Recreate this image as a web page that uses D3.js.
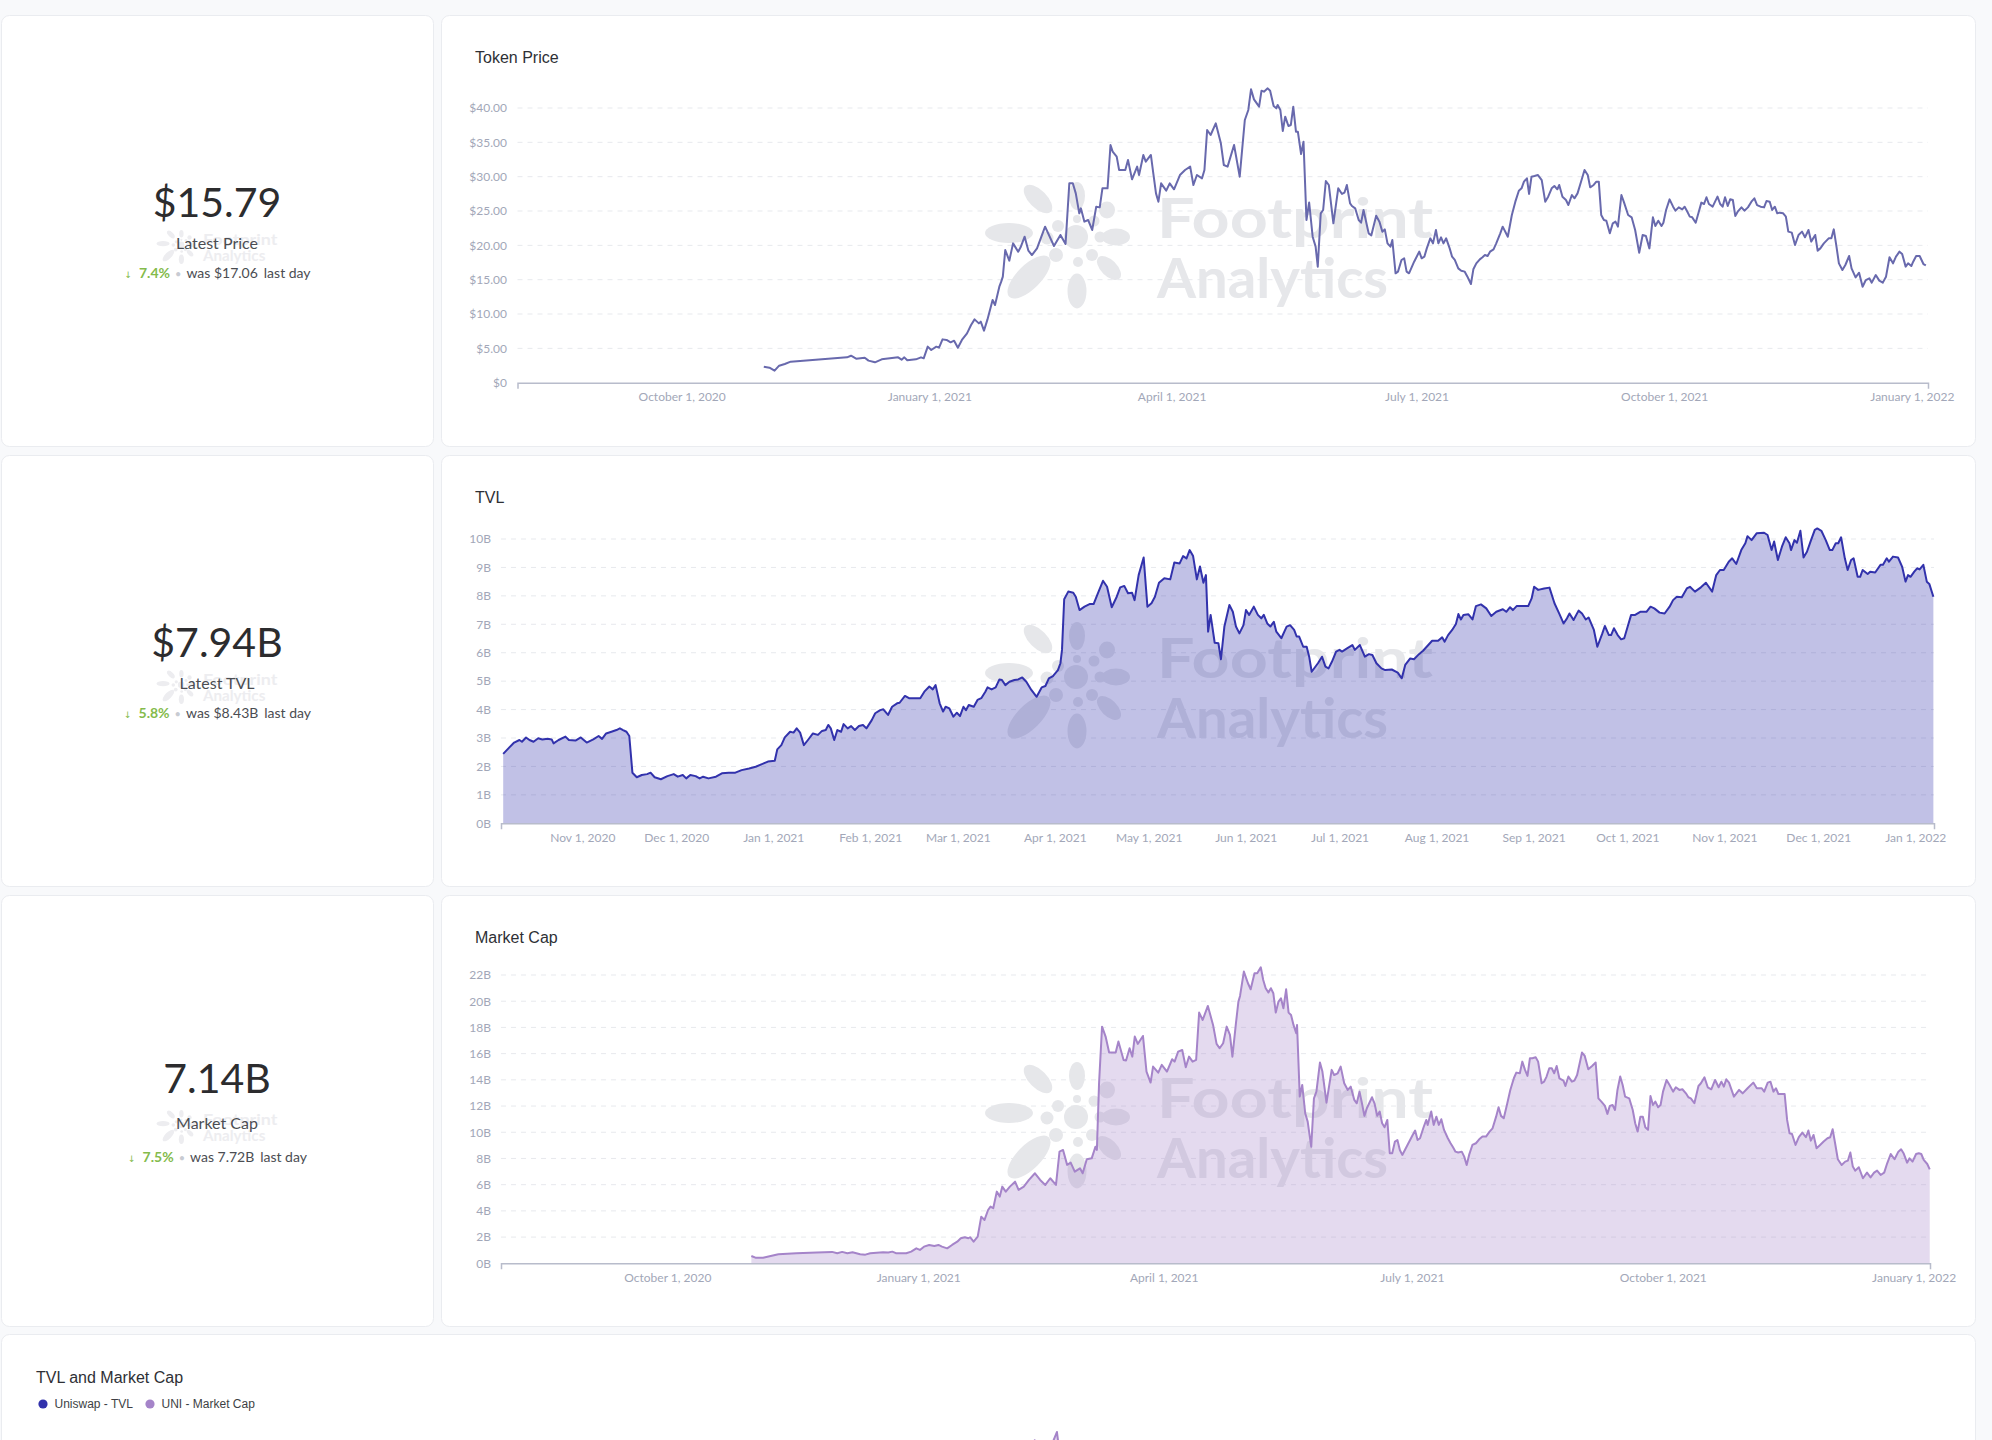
<!DOCTYPE html>
<html>
<head>
<meta charset="utf-8">
<script src="https://cdn.jsdelivr.net/npm/d3@7"></script>
<style>
html,body{margin:0;padding:0;background:#f8f9fb;overflow:hidden;}
svg{display:block;}
</style>
</head>
<body>
<svg id="page" width="1992" height="1440"></svg>
<script>
// ---------------- DATA ----------------
// x values are days counted from 2020-10-01, y values in USD / billions
const dayZero = "2020-10-01";

const tokenPrice = [[30.5,2.33],[32.6,2.19],[34.5,1.75],[36.2,2.48],[38.3,2.72],[40.5,3.06],[61.4,3.69],[62.9,3.93],[64.8,3.50],[68.0,3.64],[69.4,3.21],[71.8,2.97],[74.3,3.40],[80.4,3.69],[81.7,3.35],[82.7,3.69],[83.8,3.26],[87.0,3.40],[88.9,3.69],[89.9,3.55],[91.4,5.25],[92.7,4.76],[94.6,5.25],[95.6,5.10],[96.9,6.31],[98.4,6.22],[99.9,5.88],[101.2,6.12],[102.6,5.10],[104.1,6.22],[106.0,7.19],[107.5,8.40],[108.8,9.22],[110.4,8.64],[111.1,8.89],[112.3,7.58],[113.6,9.22],[115.5,12.04],[116.4,11.31],[118.0,13.98],[118.7,14.71],[119.3,15.44],[120.2,19.32],[121.7,17.77],[123.1,20.29],[125.0,19.08],[125.9,19.71],[127.4,21.26],[128.8,19.23],[130.1,18.59],[132.0,19.56],[135.0,22.72],[138.3,19.90],[140.7,21.51],[142.6,20.20],[144.0,29.03],[145.3,29.03],[146.4,27.57],[147.7,24.66],[148.3,25.39],[149.6,23.45],[151.0,23.69],[152.5,22.24],[154.0,25.63],[155.3,25.53],[156.3,28.30],[158.2,28.30],[159.3,34.61],[160.1,33.64],[161.6,32.91],[162.5,30.97],[164.8,30.97],[165.8,32.43],[167.3,29.61],[169.2,31.46],[169.9,30.24],[171.5,33.16],[172.4,32.18],[174.3,33.16],[175.2,30.49],[176.2,27.57],[177.1,26.36],[178.1,29.03],[180.0,27.96],[181.3,29.03],[182.9,28.16],[185.1,30.24],[187.0,30.97],[188.9,31.46],[190.1,28.79],[191.4,30.24],[193.3,29.76],[194.2,30.97],[195.2,36.80],[196.5,36.07],[198.4,37.77],[200.3,34.85],[201.4,31.70],[202.8,31.46],[205.2,34.61],[207.3,30.00],[209.2,38.25],[210.5,39.71],[211.5,42.72],[212.6,41.26],[214.5,40.19],[215.4,42.52],[216.3,42.38],[217.7,42.86],[218.6,42.52],[219.9,40.29],[220.9,39.95],[221.4,40.44],[222.4,39.71],[223.3,36.65],[224.2,38.74],[225.4,37.38],[226.3,37.53],[227.2,40.19],[228.2,36.55],[228.9,36.55],[230.1,33.30],[231.0,35.10],[232.1,23.69],[233.1,26.24],[234.4,21.26],[235.5,19.81],[236.3,16.90],[237.4,24.66],[238.3,25.15],[239.3,29.37],[240.4,28.79],[242.1,23.21],[243.9,28.30],[245.3,27.48],[246.2,27.67],[247.1,28.79],[248.3,26.12],[249.0,25.73],[250.2,25.39],[251.5,23.69],[252.4,23.30],[253.3,25.15],[255.2,21.75],[256.2,21.46],[258.0,24.32],[259.2,23.45],[260.3,21.99],[261.2,22.33],[262.2,20.29],[263.3,19.81],[264.0,20.78],[265.2,15.93],[266.1,16.17],[267.4,17.87],[268.4,18.11],[269.3,16.17],[270.2,15.93],[272.1,17.62],[274.0,19.08],[274.9,18.11],[275.9,18.35],[276.8,19.56],[278.1,21.02],[279.1,20.29],[280.2,22.24],[281.1,20.29],[282.1,21.17],[283.0,20.29],[284.0,21.02],[285.3,19.56],[286.2,18.35],[287.2,17.87],[288.5,16.65],[289.6,16.31],[290.9,16.17],[291.9,15.44],[293.2,14.37],[294.1,16.51],[295.2,17.38],[296.5,17.96],[297.5,18.26],[298.4,18.59],[299.4,18.45],[300.3,19.08],[301.6,19.42],[302.6,20.29],[304.1,21.75],[305.0,22.72],[306.9,21.26],[308.4,24.42],[309.7,26.36],[311.0,27.96],[312.0,28.30],[312.9,29.27],[314.0,29.76],[314.8,27.48],[315.7,30.00],[316.8,30.10],[318.1,30.24],[319.5,29.51],[320.8,26.36],[321.9,27.09],[323.2,28.30],[324.2,28.64],[325.3,28.16],[326.0,28.79],[327.2,27.09],[328.5,26.60],[329.4,25.87],[330.7,27.33],[331.7,26.85],[332.8,27.57],[334.1,29.27],[335.4,30.97],[336.6,30.24],[337.5,28.45],[338.8,28.79],[339.8,29.27],[340.7,29.27],[341.6,24.42],[342.6,23.69],[343.5,23.59],[344.8,21.75],[345.9,23.21],[346.9,23.45],[347.8,22.72],[349.1,27.33],[350.1,26.22],[351.6,24.42],[352.9,24.08],[354.2,22.24],[355.7,18.93],[357.0,21.51],[358.2,21.36],[359.5,19.56],[360.8,24.08],[361.7,22.82],[362.8,23.59],[364.0,22.82],[364.7,23.30],[365.7,25.15],[367.0,26.70],[368.3,25.63],[369.2,25.05],[370.4,25.53],[371.7,25.24],[372.6,25.63],[373.6,24.90],[374.5,24.18],[375.4,24.08],[376.7,23.30],[377.7,24.66],[378.8,26.22],[379.8,26.02],[380.7,27.00],[381.6,26.02],[383.0,25.63],[383.9,26.36],[384.8,27.09],[385.8,26.02],[386.7,25.63],[387.6,27.00],[388.6,25.73],[389.5,26.70],[390.5,26.60],[391.4,24.28],[392.3,24.90],[393.7,25.53],[394.8,25.05],[396.1,25.53],[397.4,26.36],[398.5,26.85],[399.5,25.87],[400.8,25.63],[402.1,25.53],[403.0,26.46],[404.2,26.36],[405.1,25.15],[406.1,25.63],[407.0,24.66],[407.9,24.76],[409.2,24.66],[410.2,24.18],[411.1,22.00],[412.4,21.85],[413.6,20.05],[414.9,21.51],[416.2,22.00],[417.3,21.17],[418.6,22.24],[419.6,20.54],[421.1,21.51],[422.0,19.23],[423.0,19.56],[424.3,20.29],[426.1,21.02],[427.1,21.02],[428.0,22.33],[429.0,19.81],[429.9,17.38],[431.2,16.41],[432.3,17.14],[433.7,18.45],[434.6,16.65],[436.1,15.34],[437.4,16.02],[438.7,13.98],[439.9,14.95],[441.2,15.20],[442.1,14.57],[443.6,15.68],[444.9,14.86],[446.2,14.57],[447.4,15.44],[448.7,18.26],[450.0,17.38],[451.1,18.35],[452.4,19.08],[453.4,18.74],[454.7,16.90],[455.6,17.38],[456.8,16.99],[457.5,17.62],[458.6,18.45],[459.9,18.45],[461.3,17.28],[462.2,17.09]];

const tvl = [[5.7,2.44],[7.6,2.66],[9.2,2.84],[10.9,2.93],[11.7,2.87],[13.0,3.02],[14.1,2.93],[15.4,2.87],[16.9,2.99],[18.2,2.95],[19.9,2.97],[21.2,2.95],[21.8,2.81],[23.4,2.93],[25.6,3.05],[26.7,2.93],[28.8,2.91],[30.5,3.02],[32.4,2.84],[34.5,2.95],[36.2,3.07],[37.3,2.97],[38.6,3.16],[40.3,3.22],[41.9,3.28],[43.0,3.34],[44.0,3.28],[45.1,3.22],[46.0,3.07],[47.0,1.78],[48.4,1.62],[50.0,1.70],[51.7,1.73],[52.8,1.78],[54.1,1.62],[56.1,1.55],[58.2,1.66],[60.2,1.73],[61.5,1.64],[63.1,1.70],[64.2,1.58],[65.5,1.70],[67.2,1.66],[68.5,1.58],[69.6,1.64],[71.3,1.58],[73.7,1.64],[75.6,1.76],[77.8,1.78],[79.9,1.78],[81.9,1.87],[84.3,1.93],[86.4,1.99],[88.4,2.08],[90.3,2.17],[92.5,2.20],[93.3,2.60],[94.6,2.75],[95.7,3.02],[97.4,3.22],[98.5,3.19],[99.5,3.34],[100.6,3.19],[101.8,2.75],[103.1,2.93],[104.7,3.16],[106.3,3.11],[107.6,3.25],[108.8,3.28],[109.6,3.46],[110.4,3.34],[111.5,2.93],[112.5,3.28],[113.7,3.22],[114.5,3.49],[115.8,3.34],[116.9,3.42],[118.1,3.28],[119.4,3.42],[120.7,3.46],[121.8,3.34],[123.5,3.63],[124.6,3.87],[126.2,3.98],[127.2,4.01],[128.7,3.81],[130.0,4.10],[131.6,4.22],[132.4,4.24],[134.1,4.48],[135.4,4.40],[137.3,4.40],[139.0,4.40],[140.3,4.63],[141.9,4.81],[143.0,4.71],[143.9,4.86],[145.2,4.22],[146.3,3.93],[147.1,4.10],[148.3,4.04],[149.6,3.75],[150.7,3.89],[151.7,3.77],[152.8,4.10],[153.6,3.98],[154.5,4.16],[156.1,4.10],[157.3,4.34],[158.5,4.40],[159.8,4.63],[160.5,4.78],[161.8,4.71],[163.1,4.78],[164.3,5.06],[165.1,5.04],[166.2,4.86],[167.5,4.98],[169.1,5.04],[170.3,5.06],[171.6,5.13],[172.9,4.98],[174.5,4.69],[176.2,4.45],[177.8,4.78],[179.0,4.83],[180.1,5.10],[181.4,5.18],[183.0,5.39],[183.8,5.63],[184.3,6.10],[185.0,7.88],[186.3,8.15],[187.9,8.11],[188.7,7.97],[189.9,7.50],[191.5,7.62],[193.1,7.71],[194.4,7.71],[195.7,8.07],[197.4,8.53],[198.7,8.32],[200.2,7.60],[201.8,7.97],[202.9,8.30],[204.2,8.35],[205.4,8.09],[206.7,8.11],[207.5,7.85],[208.8,8.73],[210.4,9.35],[211.6,7.62],[212.9,7.74],[214.0,7.97],[215.3,8.46],[217.0,8.62],[218.9,8.58],[220.2,9.17],[221.9,9.14],[223.0,9.40],[224.1,9.32],[225.1,9.61],[226.2,9.40],[227.4,8.58],[228.4,9.03],[229.5,8.46],[230.3,8.73],[231.0,6.74],[231.8,7.33],[233.1,6.35],[234.3,6.33],[235.1,5.77],[236.2,6.92],[237.8,7.68],[238.9,7.44],[239.9,6.92],[241.0,6.68],[242.3,6.97],[243.1,7.50],[244.1,7.33],[245.6,7.62],[246.9,7.33],[248.0,7.21],[248.8,7.33],[249.9,7.03],[250.9,6.92],[252.0,7.09],[252.8,6.74],[254.4,6.51],[256.1,6.92],[257.2,6.97],[258.5,6.80],[259.3,6.57],[260.1,6.57],[261.4,6.21],[262.5,6.21],[263.3,5.86],[264.1,5.33],[266.1,5.63],[267.4,5.86],[268.5,5.51],[269.5,5.45],[270.6,5.69],[271.9,6.04],[273.0,6.10],[273.8,6.04],[275.4,6.15],[277.1,6.27],[277.9,6.10],[279.5,6.27],[281.1,5.86],[282.4,5.95],[283.5,5.92],[284.8,5.63],[286.4,5.45],[287.6,5.39],[289.7,5.41],[291.6,5.30],[292.9,5.10],[294.0,5.57],[295.6,5.80],[296.8,5.77],[298.4,5.95],[299.7,6.07],[302.6,6.42],[304.5,6.42],[305.8,6.54],[306.6,6.39],[307.7,6.62],[309.0,6.80],[310.2,7.01],[311.0,7.36],[311.8,7.17],[312.6,7.33],[314.2,7.35],[315.5,7.17],[316.6,7.64],[318.2,7.70],[319.9,7.56],[321.5,7.29],[323.1,7.44],[325.2,7.53],[326.3,7.44],[327.5,7.60],[328.4,7.50],[329.6,7.64],[332.0,7.64],[333.3,7.64],[334.4,7.91],[335.2,8.32],[336.5,8.21],[338.4,8.26],[340.1,8.29],[341.7,7.74],[343.3,7.36],[344.6,7.03],[345.7,7.21],[346.5,7.38],[347.8,7.15],[349.4,7.48],[350.5,7.38],[351.7,7.17],[352.6,7.24],[354.3,6.80],[355.4,6.21],[357.0,6.68],[357.8,6.94],[359.1,6.62],[359.8,6.62],[360.7,6.86],[361.9,6.62],[363.0,6.47],[364.0,6.51],[365.1,6.92],[366.2,7.33],[367.5,7.33],[369.1,7.44],[371.1,7.44],[372.4,7.62],[373.6,7.56],[375.3,7.41],[376.9,7.38],[378.5,7.62],[379.6,7.85],[380.8,7.97],[382.4,7.95],[384.0,8.26],[385.0,8.32],[386.6,8.15],[388.5,8.30],[390.1,8.46],[392.1,8.15],[393.4,8.73],[394.6,8.91],[395.8,8.91],[397.4,9.20],[398.5,9.32],[399.8,9.12],[401.4,9.61],[402.7,9.85],[403.4,10.10],[404.7,9.96],[406.3,10.20],[408.7,10.22],[409.8,10.14],[411.1,9.61],[411.9,9.91],[413.1,9.26],[414.4,9.73],[415.6,10.06],[416.8,9.85],[417.3,9.61],[418.4,9.96],[419.2,9.87],[420.3,10.29],[421.3,9.35],[422.4,9.55],[423.7,9.96],[424.9,10.32],[425.7,10.37],[427.0,10.29],[428.4,9.96],[429.7,9.61],[430.5,9.61],[431.6,9.85],[432.4,9.85],[433.3,10.06],[434.5,9.32],[435.4,8.91],[436.5,9.26],[437.3,9.32],[438.6,8.67],[439.4,8.67],[440.2,8.91],[441.8,8.77],[442.6,8.85],[444.2,8.82],[445.9,9.09],[446.7,9.09],[447.9,9.32],[448.6,9.20],[449.9,9.38],[451.5,9.35],[452.8,9.03],[453.9,8.50],[454.7,8.73],[455.5,8.67],[456.7,8.85],[457.6,8.97],[458.4,8.93],[459.6,9.09],[460.7,8.50],[461.5,8.42],[462.8,7.97]];

const marketCap = [[30.8,0.56],[32.3,0.43],[35.1,0.43],[37.9,0.56],[40.7,0.69],[47.3,0.77],[54.8,0.82],[60.4,0.87],[62.3,0.77],[64.1,0.87],[66.0,0.77],[67.9,0.84],[70.7,0.69],[72.6,0.66],[74.4,0.77],[79.1,0.84],[81.0,0.82],[82.5,0.89],[83.8,0.77],[87.6,0.77],[89.4,0.89],[91.3,1.14],[92.6,1.02],[94.1,1.27],[96.0,1.40],[97.9,1.32],[99.4,1.40],[100.7,1.27],[102.6,1.14],[104.4,1.40],[106.3,1.65],[107.6,1.91],[109.1,1.99],[110.4,1.91],[111.0,1.99],[112.3,1.65],[113.8,2.04],[115.1,3.56],[116.3,3.31],[117.6,4.07],[118.5,4.33],[119.5,4.20],[120.8,5.47],[121.9,5.09],[122.8,5.85],[124.1,5.47],[125.6,5.85],[127.5,6.23],[128.8,5.60],[130.7,5.85],[132.6,6.36],[134.8,6.87],[136.7,6.36],[138.6,5.98],[140.4,6.49],[142.5,5.98],[143.8,8.52],[145.1,8.65],[146.6,7.51],[147.9,7.68],[149.4,6.99],[151.3,7.25],[152.3,6.87],[153.8,7.94],[155.6,8.01],[157.0,8.90],[157.5,8.65],[158.3,13.74],[159.4,18.06],[160.7,17.30],[162.0,16.08],[164.4,16.08],[165.4,16.92],[167.3,15.52],[168.2,15.47],[169.5,16.41],[170.5,15.77],[171.4,17.30],[172.5,16.74],[174.4,17.35],[175.7,14.63],[177.2,13.79],[178.1,15.01],[180.0,14.55],[181.3,15.14],[183.2,14.63],[185.1,15.57],[186.0,15.39],[187.3,16.15],[188.8,16.28],[190.1,14.96],[191.3,15.77],[192.6,15.39],[193.9,15.52],[195.0,19.13],[196.3,18.57],[198.2,19.64],[200.1,18.19],[201.4,16.74],[202.5,16.41],[203.8,16.79],[205.1,18.06],[206.3,17.43],[207.2,15.77],[208.5,18.32],[209.4,19.97],[210.0,20.40],[211.4,22.26],[212.9,21.37],[213.9,20.91],[215.3,22.13],[216.3,22.13],[217.6,22.59],[218.5,21.62],[219.4,20.99],[220.4,20.66],[221.3,20.99],[222.2,20.61],[223.1,19.13],[224.1,19.97],[225.0,20.22],[225.9,19.46],[226.9,20.91],[227.8,19.13],[228.7,18.95],[229.6,18.19],[230.6,17.55],[230.9,18.19],[231.9,12.72],[232.8,13.61],[233.9,11.45],[234.8,10.81],[236.1,8.90],[237.1,12.59],[238.0,13.10],[239.3,15.32],[240.2,14.63],[241.7,12.26],[243.6,14.76],[244.5,14.37],[245.8,14.50],[246.9,15.01],[248.2,13.74],[249.5,13.23],[250.6,13.48],[251.9,12.47],[252.8,12.21],[253.8,13.10],[254.7,12.21],[255.6,11.25],[256.5,11.83],[258.4,12.67],[259.3,12.21],[260.3,11.25],[261.2,11.58],[262.1,10.69],[263.0,10.38],[264.0,10.94],[264.9,8.40],[265.8,8.40],[266.8,9.29],[267.7,9.41],[268.6,8.65],[269.5,8.27],[271.4,9.03],[273.3,9.79],[274.2,10.13],[275.1,9.41],[276.0,9.54],[277.3,10.38],[278.3,10.94],[278.8,10.56],[280.1,11.58],[281.0,10.56],[282.0,11.19],[282.9,10.56],[283.8,10.99],[284.8,10.18],[286.2,9.54],[287.2,9.16],[288.1,8.85],[289.0,8.52],[290.0,8.45],[291.3,8.52],[292.2,8.14],[293.1,7.50],[294.0,8.27],[295.2,9.03],[296.5,9.16],[297.7,9.46],[298.9,9.67],[300.2,9.67],[301.5,10.05],[302.6,10.30],[303.9,11.19],[304.8,11.91],[305.7,11.25],[306.7,11.07],[308.0,12.21],[309.1,13.23],[310.4,14.12],[311.3,14.55],[312.6,14.50],[313.5,15.39],[314.5,14.76],[315.4,14.30],[316.3,15.65],[317.2,15.65],[318.4,15.72],[319.3,15.39],[320.6,13.74],[321.5,13.86],[322.4,14.25],[323.4,14.88],[324.3,14.88],[325.2,14.50],[326.1,15.06],[327.1,14.12],[328.6,13.94],[329.3,13.53],[330.4,14.25],[331.7,13.86],[332.6,13.94],[333.6,14.37],[335.4,16.08],[336.4,15.82],[337.7,14.81],[339.1,15.06],[340.4,15.32],[341.4,12.59],[342.5,12.34],[343.8,12.01],[344.7,11.40],[345.6,12.01],[346.6,12.08],[347.5,11.70],[348.4,13.23],[349.4,14.25],[350.3,13.61],[351.2,12.72],[352.7,12.59],[354.0,11.70],[354.9,10.69],[355.8,10.05],[356.8,11.19],[357.7,11.19],[358.6,10.38],[359.6,10.18],[360.5,12.77],[361.4,12.08],[362.3,12.34],[363.3,11.91],[364.2,12.08],[365.1,13.10],[366.4,13.99],[367.5,13.61],[368.8,13.10],[369.8,13.43],[371.1,13.23],[372.2,13.28],[373.5,12.97],[374.4,12.67],[375.3,12.59],[376.6,12.21],[378.1,13.53],[379.0,13.74],[380.3,14.19],[381.5,13.43],[382.8,13.28],[384.2,13.99],[385.5,13.43],[386.5,13.86],[387.4,13.48],[388.3,14.04],[389.3,13.79],[391.1,12.72],[393.0,13.23],[394.3,12.97],[396.1,13.36],[398.2,13.79],[399.5,13.36],[401.3,13.36],[402.2,13.10],[403.5,13.79],[404.5,13.86],[405.6,13.10],[406.5,13.36],[407.4,12.92],[409.7,12.92],[410.6,10.94],[411.5,9.92],[412.4,9.87],[413.7,9.03],[414.9,9.62],[416.2,9.97],[417.5,9.62],[418.4,10.13],[419.3,9.36],[420.3,9.79],[421.4,8.78],[422.7,9.03],[424.0,9.29],[425.4,9.54],[426.4,9.62],[427.3,10.23],[428.2,9.16],[429.2,7.94],[430.6,7.50],[431.9,7.76],[432.9,7.84],[433.8,8.45],[434.7,7.38],[435.6,7.07],[436.9,7.33],[438.4,6.49],[439.9,6.92],[441.2,6.56],[442.5,6.92],[443.6,7.07],[444.9,6.74],[446.2,6.92],[447.3,7.63],[448.6,8.34],[450.0,7.94],[451.4,8.52],[452.4,8.70],[453.3,8.40],[454.6,7.68],[455.5,8.01],[456.6,7.76],[457.9,8.34],[458.9,8.40],[459.8,8.34],[460.7,7.89],[462.0,7.58],[462.9,7.17]];

// KPI cards
const kpiValues   = ["$15.79", "$7.94B", "7.14B"];
const kpiLabels   = ["Latest Price", "Latest TVL", "Market Cap"];
const kpiChanges  = ["7.4%", "5.8%", "7.5%"];
const kpiPrevious = ["was $17.06", "was $8.43B", "was 7.72B"];

// titles / legend
const chartTitles = ["Token Price", "TVL", "Market Cap", "TVL and Market Cap"];
const legendNames = ["Uniswap - TVL", "UNI - Market Cap"];

// axis ticks
const priceYTicks = [0, 5, 10, 15, 20, 25, 30, 35, 40];
const tvlYTicks   = [0, 1, 2, 3, 4, 5, 6, 7, 8, 9, 10];
const mcapYTicks  = [0, 2, 4, 6, 8, 10, 12, 14, 16, 18, 20, 22];
const quarterTicks = ["2020-10-01", "2021-01-01", "2021-04-01", "2021-07-01", "2021-10-01", "2022-01-01"];
const monthTicks   = ["2020-11-01", "2020-12-01", "2021-01-01", "2021-02-01", "2021-03-01", "2021-04-01", "2021-05-01",
                      "2021-06-01", "2021-07-01", "2021-08-01", "2021-09-01", "2021-10-01", "2021-11-01", "2021-12-01", "2022-01-01"];
const longDomain  = ["2020-08-01", "2022-01-07"];
const tvlDomain   = ["2020-10-06", "2022-01-07"];

// ---------------- DRAW ----------------
const parse = d3.utcParse("%Y-%m-%d");
const base = parse(dayZero).getTime();
const toDate = d => new Date(base + d * 864e5);

const C = {
  bg: "#f8f9fb", card: "#ffffff", cardStroke: "#eaecf0",
  title: "#2e3035", axisText: "#a2a7b8", grid: "#e7e9ed", axis: "#b8bccb",
  price: "#6869ad", tvl: "#3232ac", mcap: "#a584c9",
  wm: "#e6e7ea", wmSmall: "#ededf0",
  big: "#2c2c2e", label: "#4b4d52", green: "#84bb4c", dot: "#c8cbd2"
};
const SANS = "'Liberation Sans', Arial, Helvetica, sans-serif";
const LATO = "Lato, 'Noto Sans', sans-serif";

const svg = d3.select("#page");
svg.append("rect").attr("width", 1992).attr("height", 1440).attr("fill", C.bg);

// cards
const cardBoxes = [
  [1.5, 15.5, 432, 431], [441.5, 15.5, 1534, 431],
  [1.5, 455.5, 432, 431], [441.5, 455.5, 1534, 431],
  [1.5, 895.5, 432, 431], [441.5, 895.5, 1534, 431],
  [1.5, 1334.5, 1974, 400]
];
svg.append("g").selectAll("rect").data(cardBoxes).join("rect")
  .attr("x", d => d[0]).attr("y", d => d[1]).attr("width", d => d[2]).attr("height", d => d[3])
  .attr("rx", 8).attr("fill", C.card).attr("stroke", C.cardStroke).attr("stroke-width", 1);

// Footprint watermark (logo + words), origin = start of "Footprint" baseline
function watermark(parent, tx, ty, s, color) {
  const w = parent.append("g").attr("transform", `translate(${tx},${ty}) scale(${s})`).attr("fill", color);
  const logo = w.append("g").attr("transform", "translate(-81,-1)");
  const petals = [
    [-67, -4, 24, 10, 0], [-38, -38, 18, 9, 45], [1, -41, 8, 14, 0], [31, -27, 8, 8.5, 0],
    [40, 0, 14, 8.5, 0], [33, 31, 15, 8, 45], [1, 54, 9.5, 17.5, 0], [-47, 40, 28, 12, -45],
    [-18, -11, 6, 6, 0], [1, -18, 4, 4, 0], [18, -16, 5.5, 5.5, 0], [24, 0, 5.5, 5.5, 0],
    [16, 18, 6, 6, 0], [2, 25, 5, 5, 0], [-20, 18, 7, 7, 0], [-29, 1, 6.5, 6.5, 0], [0, 0, 12, 12, 0]
  ];
  logo.selectAll("ellipse").data(petals).join("ellipse")
    .attr("cx", d => d[0]).attr("cy", d => d[1]).attr("rx", d => d[2]).attr("ry", d => d[3])
    .attr("transform", d => `rotate(${d[4]} ${d[0]} ${d[1]})`);
  w.append("text").text("Footprint").attr("font-family", LATO).attr("font-weight", 700)
    .attr("font-size", 55).attr("textLength", 276).attr("lengthAdjust", "spacingAndGlyphs");
  w.append("text").text("Analytics").attr("y", 60).attr("font-family", LATO).attr("font-weight", 700)
    .attr("font-size", 55).attr("textLength", 231).attr("lengthAdjust", "spacingAndGlyphs");
}

// KPI cards
const kpiTops = [15, 455, 895];
const kpiBigBase = [201.5, 201.5, 198];
const kpiSubBase = [263.3, 263.3, 266.5];
kpiTops.forEach((top, i) => {
  const g = svg.append("g");
  watermark(g, 203, top + 230, 0.27, C.wmSmall);
  g.append("text").attr("x", 217).attr("y", top + kpiBigBase[i]).attr("text-anchor", "middle")
    .attr("font-family", LATO).attr("font-size", 41).attr("fill", C.big).text(kpiValues[i]);
  g.append("text").attr("x", 217).attr("y", top + 233.5).attr("text-anchor", "middle")
    .attr("font-family", LATO).attr("font-size", 16).attr("fill", C.label).text(kpiLabels[i]);
  const t = g.append("text").attr("x", 217.5).attr("y", top + kpiSubBase[i]).attr("text-anchor", "middle")
    .attr("font-family", LATO).attr("font-size", 14).attr("fill", C.label);
  t.append("tspan").attr("fill", C.green).attr("font-size", 9).attr("font-family", "'DejaVu Sans', sans-serif").text("↓");
  t.append("tspan").attr("dx", 7).attr("fill", C.green).attr("font-weight", 700).text(kpiChanges[i]);
  t.append("tspan").attr("dx", 5).attr("fill", C.dot).attr("font-size", 11).text("•");
  t.append("tspan").attr("dx", 5).text(kpiPrevious[i]);
  t.append("tspan").attr("dx", 6).text("last day");
});

// generic time chart
function timeChart(o) {
  const g = svg.append("g");
  const x = d3.scaleUtc().domain(o.xDomain.map(parse)).range([o.x0, o.x1]);
  const y = d3.scaleLinear().domain([0, o.yTicks[o.yTicks.length - 1]]).range([o.yBase, o.yTop]);

  g.append("text").attr("x", o.titleX).attr("y", o.titleY).attr("font-family", SANS)
    .attr("font-size", 16).attr("fill", C.title).text(o.title);

  g.append("g").selectAll("line").data(o.yTicks.filter(t => t > 0)).join("line")
    .attr("x1", o.x0).attr("x2", o.x1).attr("y1", d => y(d)).attr("y2", d => y(d))
    .attr("stroke", C.grid).attr("stroke-width", 1).attr("stroke-dasharray", "5,5");

  watermark(g, o.wmX, o.wmY, 1, C.wm);

  const ya = d3.axisLeft(y).tickValues(o.yTicks).tickFormat(o.yFmt).tickSize(0).tickPadding(0);
  g.append("g").attr("transform", `translate(${o.labelRight},0)`).call(ya)
    .call(s => s.select(".domain").remove())
    .call(s => s.selectAll("text").attr("font-family", LATO).attr("font-size", 12).attr("fill", C.axisText));

  const pts = o.data.map(d => [x(toDate(d[0])), y(d[1])]);
  if (o.area) {
    g.append("path").datum(pts)
      .attr("d", d3.area().x(d => d[0]).y0(o.yBase).y1(d => d[1]))
      .attr("fill", o.color).attr("fill-opacity", 0.3);
  }
  g.append("path").datum(pts)
    .attr("d", d3.line().x(d => d[0]).y(d => d[1]))
    .attr("fill", "none").attr("stroke", o.color).attr("stroke-width", 2)
    .attr("stroke-linejoin", "round");

  const xa = d3.axisBottom(x).tickValues(o.xTicks.map(parse)).tickFormat(d3.utcFormat(o.xFmt))
    .tickSizeInner(0).tickSizeOuter(6).tickPadding(10);
  g.append("g").attr("transform", `translate(0,${o.yBase})`).call(xa)
    .call(s => s.select(".domain").attr("stroke", C.axis).attr("stroke-width", 1.5))
    .call(s => s.selectAll("text").attr("font-family", LATO).attr("font-size", 12).attr("fill", C.axisText));
  return g;
}

timeChart({
  title: chartTitles[0], titleX: 475, titleY: 63.3,
  data: tokenPrice, color: C.price, area: false,
  xDomain: longDomain, x0: 517.5, x1: 1928, xTicks: quarterTicks, xFmt: "%B %-d, %Y",
  yTicks: priceYTicks, yBase: 382.7, yTop: 108, labelRight: 507,
  yFmt: v => v === 0 ? "$0" : "$" + v.toFixed(2),
  wmX: 1157, wmY: 238
});

timeChart({
  title: chartTitles[1], titleX: 475, titleY: 503.3,
  data: tvl, color: C.tvl, area: true,
  xDomain: tvlDomain, x0: 501, x1: 1934, xTicks: monthTicks, xFmt: "%b %-d, %Y",
  yTicks: tvlYTicks, yBase: 823.3, yTop: 539, labelRight: 491,
  yFmt: v => v + "B",
  wmX: 1157, wmY: 678
});

timeChart({
  title: chartTitles[2], titleX: 475, titleY: 943.3,
  data: marketCap, color: C.mcap, area: true,
  xDomain: longDomain, x0: 501, x1: 1930, xTicks: quarterTicks, xFmt: "%B %-d, %Y",
  yTicks: mcapYTicks, yBase: 1263.3, yTop: 975, labelRight: 491,
  yFmt: v => v + "B",
  wmX: 1157, wmY: 1118
});

// combined chart (only its top edge is inside the window)
(function combined() {
  const g = svg.append("g");
  g.append("text").attr("x", 36).attr("y", 1383).attr("font-family", SANS)
    .attr("font-size", 16).attr("fill", C.title).text(chartTitles[3]);
  const leg = [[43, C.tvl, legendNames[0]], [150, C.mcap, legendNames[1]]];
  leg.forEach(l => {
    g.append("circle").attr("cx", l[0]).attr("cy", 1404).attr("r", 4.6).attr("fill", l[1]);
    g.append("text").attr("x", l[0] + 11.5).attr("y", 1408.2).attr("font-family", SANS)
      .attr("font-size", 12).attr("fill", "#3d3f44").text(l[2]);
  });
  const x = d3.scaleUtc().domain(longDomain.map(parse)).range([60, 1935]);
  const peak = d3.max(marketCap, d => d[1]);
  const y = d3.scaleLinear().domain([0, peak]).range([1997, 1432]);
  [[tvl, C.tvl], [marketCap, C.mcap]].forEach(([data, col]) => {
    const pts = data.map(d => [x(toDate(d[0])), y(d[1])]);
    g.append("path").datum(pts).attr("d", d3.area().x(d => d[0]).y0(1997).y1(d => d[1]))
      .attr("fill", col).attr("fill-opacity", 0.3);
    g.append("path").datum(pts).attr("d", d3.line().x(d => d[0]).y(d => d[1]))
      .attr("fill", "none").attr("stroke", col).attr("stroke-width", 2).attr("stroke-linejoin", "round");
  });
})();
</script>
</body>
</html>
